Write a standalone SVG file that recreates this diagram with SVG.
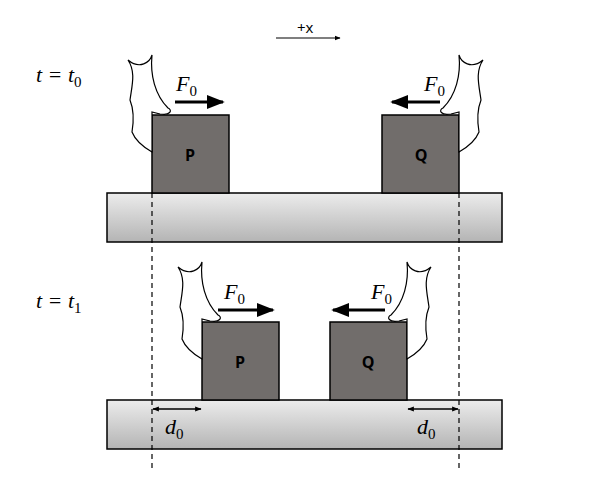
<svg xmlns="http://www.w3.org/2000/svg" width="613" height="480" viewBox="0 0 613 480">
<defs>
<linearGradient id="bar" x1="0" y1="0" x2="0" y2="1"><stop offset="0" stop-color="#ececec"/><stop offset="1" stop-color="#b4b4b4"/></linearGradient>
<marker id="ah" viewBox="0 0 10 10" refX="9" refY="5" markerWidth="6" markerHeight="6" orient="auto-start-reverse"><path d="M0,1 L10,5 L0,9 z" fill="#000"/></marker>
<marker id="sm" viewBox="0 0 10 10" refX="9" refY="5" markerWidth="5" markerHeight="5" orient="auto-start-reverse"><path d="M0,1 L10,5 L0,9 z" fill="#000"/></marker>
<style>
.bar{fill:url(#bar);stroke:#000;stroke-width:1.5}
.blk{fill:#716d6b;stroke:#000;stroke-width:1.5}
.lbl{font-family:"Open Sans","DejaVu Sans",sans-serif;font-weight:bold;font-size:16px;text-anchor:middle}
.m{font-family:"Liberation Serif",serif;font-style:italic;font-size:22px}
.sub{font-style:normal;font-size:15px}
.f{stroke:#000;stroke-width:3;fill:none;marker-end:url(#ah)}
.d{stroke:#000;stroke-width:1.2;stroke-dasharray:5,4;fill:none}
.hand{fill:#fff;stroke:#000;stroke-width:1.2}
</style>
</defs>
<g id="axis"><text x="297" y="33" font-family="Open Sans,sans-serif" font-size="15">+x</text><line x1="276" y1="38" x2="340" y2="38" stroke="#000" stroke-width="1.2" marker-end="url(#sm)"/></g>
<text class="m" x="36" y="82">t = t<tspan class="sub" dy="5">0</tspan></text>
<text class="m" x="36" y="308">t = t<tspan class="sub" dy="5">1</tspan></text>
<g id="bar1"><rect class="bar" x="107" y="193" width="395" height="49"/></g>
<g id="bar2"><rect class="bar" x="107" y="400" width="395" height="49"/></g>
<g id="P1"><rect class="blk" x="152" y="115" width="77" height="78"/><text class="lbl" x="190" y="161">P</text>
<path class="hand" d="M128,60 C140,70 150,62 152,55 C150,75 155,95 168,108 C173,110 170,116 160,114 L152,112 L152,152 C145,148 136,142 132,132 C134,120 134,110 130,100 C132,85 136,72 128,60 Z"/></g>
<g id="Q1"><rect class="blk" x="382" y="115" width="77" height="78"/><text class="lbl" x="421" y="161">Q</text>
<path class="hand" d="M483,60 C471,70 461,62 459,55 C461,75 456,95 443,108 C438,110 441,116 451,114 L459,112 L459,152 C466,148 475,142 479,132 C477,120 477,110 481,100 C479,85 475,72 483,60 Z"/></g>
<g id="P2"><rect class="blk" x="202" y="322" width="77" height="78"/><text class="lbl" x="240" y="368">P</text>
<path class="hand" d="M178,267 C190,277 200,269 202,262 C200,282 205,302 218,315 C223,317 220,323 210,321 L202,319 L202,359 C195,355 186,349 182,339 C184,327 184,317 180,307 C182,292 186,279 178,267 Z"/></g>
<g id="Q2"><rect class="blk" x="330" y="322" width="77" height="78"/><text class="lbl" x="368" y="368">Q</text>
<path class="hand" d="M431,267 C419,277 409,269 407,262 C409,282 404,302 391,315 C386,317 389,323 399,321 L407,319 L407,359 C414,355 423,349 427,339 C425,327 425,317 429,307 C427,292 423,279 431,267 Z"/></g>
<g id="connectors">
<line class="d" x1="152" y1="193" x2="152" y2="472"/>
<line class="d" x1="459" y1="193" x2="459" y2="472"/>
<line class="f" x1="175" y1="102" x2="223" y2="102"/>
<line class="f" x1="440" y1="102" x2="392" y2="102"/>
<line class="f" x1="218" y1="310" x2="273" y2="310"/>
<line class="f" x1="385" y1="310" x2="333" y2="310"/>
<line stroke="#000" stroke-width="1.3" x1="153" y1="409" x2="201" y2="409" marker-start="url(#sm)" marker-end="url(#sm)"/>
<line stroke="#000" stroke-width="1.3" x1="408" y1="409" x2="458" y2="409" marker-start="url(#sm)" marker-end="url(#sm)"/>
</g>
<text class="m" x="176" y="91">F<tspan class="sub" dy="5">0</tspan></text>
<text class="m" x="424" y="91">F<tspan class="sub" dy="5">0</tspan></text>
<text class="m" x="224" y="299">F<tspan class="sub" dy="5">0</tspan></text>
<text class="m" x="371" y="299">F<tspan class="sub" dy="5">0</tspan></text>
<text class="m" x="165" y="434">d<tspan class="sub" dy="5">0</tspan></text>
<text class="m" x="417" y="434">d<tspan class="sub" dy="5">0</tspan></text>
</svg>
